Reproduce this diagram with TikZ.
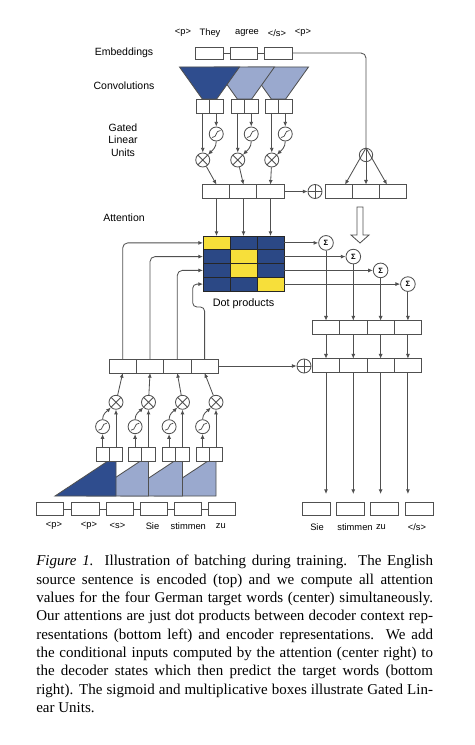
\documentclass[tikz,border=0pt]{standalone}
\usepackage{fontspec}
\setmainfont{Liberation Serif}
\newfontfamily\diagfont{Liberation Sans}
\usepackage{tikz}
\usetikzlibrary{arrows.meta, calc}

\definecolor{convdark}{HTML}{2F4D8E}
\definecolor{convlight}{HTML}{9AA9CE}
\definecolor{attblue}{HTML}{2B4885}
\definecolor{attyellow}{HTML}{F7DF3A}
\definecolor{linegray}{HTML}{505050}

\tikzset{
  vecbox/.style={draw=linegray, fill=white, line width=0.5pt, inner sep=0pt, outer sep=0pt,
    minimum width=16.4pt, minimum height=8.2pt},
  halfbox/.style={vecbox, minimum width=8pt, minimum height=8.4pt},
  attcell/.style={draw=black!85, line width=0.5pt, inner sep=0pt, outer sep=0pt,
    minimum width=16.2pt, minimum height=8.25pt},
  opcirc/.style={circle, draw=linegray, fill=white, line width=0.5pt, inner sep=0pt, minimum size=8.4pt},
  multop/.style={opcirc, path picture={
    \draw[linegray, line width=0.5pt] (path picture bounding box.north west) -- (path picture bounding box.south east)
      (path picture bounding box.north east) -- (path picture bounding box.south west);}},
  plusop/.style={opcirc, path picture={
    \draw[linegray, line width=0.5pt] (path picture bounding box.north) -- (path picture bounding box.south)
      (path picture bounding box.west) -- (path picture bounding box.east);}},
  sigop/.style={opcirc, path picture={
    \draw[linegray, line width=0.45pt] ([shift={(-2.5pt,-2.1pt)}]path picture bounding box.center)
      .. controls ([shift={(0.9pt,-2.1pt)}]path picture bounding box.center)
      and ([shift={(-0.9pt,2.1pt)}]path picture bounding box.center)
      .. ([shift={(2.5pt,2.1pt)}]path picture bounding box.center);}},
  sumop/.style={opcirc, minimum size=8.8pt, font=\diagfont\bfseries\fontsize{4.6}{5}\selectfont},
  splitop/.style={circle, draw=linegray, line width=0.5pt, inner sep=0pt, minimum size=8pt},
  arr/.style={draw=linegray, line width=0.5pt, -{Latex[length=2.8pt, width=2.4pt]}},
  conn/.style={draw=linegray, line width=0.5pt},
  wordlbl/.style={font=\diagfont\fontsize{5.6}{6.5}\selectfont, inner sep=0pt},
  sidelbl/.style={font=\diagfont\fontsize{6.3}{7.4}\selectfont, align=center, inner sep=0pt}
}

\begin{document}
\begin{tikzpicture}[x=0.6pt, y=-0.6pt]
    \path[use as bounding box, fill=white] (0,0) rectangle (474,745);

    % Labels on the left
    \node[sidelbl] (lemb) at (124,53) {Embeddings};
    \node[sidelbl] (lconv) at (124,86) {Convolutions};
    \node[sidelbl] (lglu) at (123,140) {Gated\\Linear\\Units};
    \node[sidelbl] (latt) at (124,218) {Attention};

    % Source words and their embeddings
    \node[wordlbl] (sw1) at (183,33) {<p>};
    \node[wordlbl] (sw2) at (210,33) {They};
    \node[wordlbl] (sw3) at (247,33) {agree};
    \node[wordlbl] (sw4) at (277,33) {</s>};
    \node[wordlbl] (sw5) at (303,33) {<p>};
    \foreach \n/\x in {1/209.5, 2/244, 3/278.5}
        \node[vecbox, minimum height=7.2pt] (e\n) at (\x,53) {};
    \draw[conn] (e1) -- (e2);
    \draw[conn] (e2) -- (e3);

    % Encoder convolutions
    \foreach \c/\col in {278.5/convlight, 244.5/convlight, 209.5/convdark}
        \filldraw[fill=\col, draw=linegray, line width=0.5pt]
            ({\c-30},67) -- ({\c+30},67) -- ({\c+7.2},99) -- ({\c-7.2},99) -- cycle;

    % Encoder gated linear units
    \foreach \n/\c in {1/209.5, 2/244.5, 3/278.5} {
        \node[halfbox] (ga\n) at ({\c-6.75},106) {};
        \node[halfbox] (gb\n) at ({\c+6.75},106) {};
        \node[sigop] (gs\n) at ({\c+6.75},134) {};
        \node[multop] (gm\n) at ({\c-6.75},160) {};
        \draw[arr] (gb\n) -- (gs\n);
        \draw[arr] (ga\n) -- (gm\n);
        \draw[arr] (gs\n.south) to[out=-90, in=45] (gm\n.north east);
    }

    % Encoder outputs
    \foreach \n/\x in {1/216.5, 2/243.5, 3/270.5}
        \node[vecbox] (h\n) at (\x,191.5) {};
    \foreach \n in {1,2,3}
        \draw[arr] (gm\n) -- (h\n.north);

    % Encoder outputs plus embeddings
    \node[plusop] (addtop) at (315,191.5) {};
    \draw[arr] (h3.east) -- (addtop);
    \foreach \n/\x in {1/339, 2/366, 3/393}
        \node[vecbox] (c\n) at (\x,191.5) {};
    \node[splitop] (sp) at (366,155) {};
    \draw[conn, rounded corners=3pt] (e3.east) -- (366,53) -- (sp.north);
    \draw[arr] (sp.north) -- ($(c1.north)+(6,0)$);
    \draw[arr] (sp.north) -- (c2.north);
    \draw[arr] (sp.north) -- ($(c3.north)+(-6,0)$);

    % Hollow arrow
    \draw[linegray, line width=0.5pt, fill=white] (357,207) -- (363,207) -- (363,235) -- (369,235)
        -- (360,243) -- (351,235) -- (357,235) -- cycle;

    % Attention matrix
    \foreach \r/\y/\ca/\cb/\cc in {1/242.9/attyellow/attblue/attblue, 2/256.6/attblue/attyellow/attblue,
                                   3/270.4/attblue/attyellow/attblue, 4/284.1/attblue/attblue/attyellow} {
        \node[attcell, fill=\ca] (m\r1) at (216.5,\y) {};
        \node[attcell, fill=\cb] (m\r2) at (243.5,\y) {};
        \node[attcell, fill=\cc] (m\r3) at (270.5,\y) {};
    }
    \node[sidelbl, font=\diagfont\fontsize{6.5}{7.5}\selectfont] (ldot) at (243.5,304) {Dot products};
    \foreach \n in {1,2,3}
        \draw[arr] (h\n) -- (m1\n);

    % Weighted sums
    \foreach \r/\x/\y in {1/326/242.9, 2/353.3/256.6, 3/380.6/270.4, 4/407.9/284.1} {
        \node[sumop] (sum\r) at (\x,\y) {Σ};
        \draw[arr] (m\r3.east) -- (sum\r);
        \node[vecbox] (a\r) at (\x,327.5) {};
        \node[vecbox] (d\r) at (\x,365.5) {};
        \draw[arr] (sum\r) -- (a\r);
        \draw[arr] (a\r) -- (d\r);
        \coordinate (t\r) at (\x,494);
        \draw[arr] (d\r) -- (t\r);
    }

    % Target words
    \foreach \n/\x in {1/316.5, 2/350.5, 3/384.5, 4/419.5}
        \node[vecbox] (o\n) at (\x,509) {};
    \node[wordlbl] (tw1) at (317,527) {Sie};
    \node[wordlbl] (tw2) at (355,527) {stimmen};
    \node[wordlbl] (tw3) at (381,527) {zu};
    \node[wordlbl] (tw4) at (417,527) {</s>};

    % Decoder input words and embeddings
    \foreach \n/\x in {1/50, 2/85.3, 3/119.7, 4/153.7, 5/187.8, 6/222.2}
        \node[vecbox] (b\n) at (\x,509) {};
    \foreach \n/\m in {1/2, 2/3, 3/4, 4/5, 5/6}
        \draw[conn] (b\n) -- (b\m);
    \node[wordlbl] (dw1) at (54,526) {<p>};
    \node[wordlbl] (dw2) at (89,526) {<p>};
    \node[wordlbl] (dw3) at (117.5,526) {<s>};
    \node[wordlbl] (dw4) at (152.5,526) {Sie};
    \node[wordlbl] (dw5) at (188.3,526) {stimmen};
    \node[wordlbl] (dw6) at (220.8,526) {zu};

    % Decoder convolutions
    \foreach \r/\col in {216/convlight, 182.5/convlight, 148.5/convlight, 116/convdark}
        \filldraw[fill=\col, draw=linegray, line width=0.5pt]
            ({\r-61},496) -- (\r,496) -- (\r,461) -- ({\r-8},461) -- cycle;

    % Decoder gated linear units
    \foreach \n/\r in {1/116, 2/148.5, 3/182.5, 4/216} {
        \node[halfbox] (pa\n) at ({\r-13.4},454) {};
        \node[halfbox] (pb\n) at (\r,454) {};
        \node[sigop] (ps\n) at ({\r-13.4},426.7) {};
        \node[multop] (pm\n) at (\r,402.3) {};
        \draw[arr] (pa\n) -- (ps\n);
        \draw[arr] (pb\n) -- (pm\n);
        \draw[arr] (ps\n.north) to[out=90, in=-135] (pm\n.south west);
    }

    % Decoder states
    \foreach \n/\x in {1/122.7, 2/150, 3/177.3, 4/204.6}
        \node[vecbox, minimum height=8.4pt] (q\n) at (\x,366) {};
    \foreach \n in {1,2,3,4}
        \draw[arr] (pm\n) -- (q\n.south);
    \draw[arr, rounded corners=3pt] (q1.north) |- (m11.west);
    \draw[arr, rounded corners=3pt] (q2.north) |- (m21.west);
    \draw[arr, rounded corners=3pt] (q3.north) |- (m31.west);
    \draw[arr, rounded corners=2.5pt] (q4.north) |- (192.7,307) |- (m41.west);

    % Conditional input added to decoder states
    \node[plusop] (addbot) at (304,366) {};
    \draw[arr] (q4.east) -- (addbot);

    % Caption
    \node[anchor=north west, inner sep=0pt, text width=238pt, align=justify,
          font=\fontsize{9}{11}\selectfont] (caption) at (36,555)
        {\textit{Figure 1.} Illustration of batching during training.  The English\linebreak
         source sentence is encoded (top) and we compute all attention\linebreak
         values for the four German target words (center) simultaneously.\linebreak
         Our attentions are just dot products between decoder context rep-\linebreak
         resentations (bottom left) and encoder representations.  We add\linebreak
         the conditional inputs computed by the attention (center right) to\linebreak
         the decoder states which then predict the target words (bottom\linebreak
         right). The sigmoid and multiplicative boxes illustrate Gated Lin-\linebreak
         ear Units.};

\end{tikzpicture}
\end{document}
